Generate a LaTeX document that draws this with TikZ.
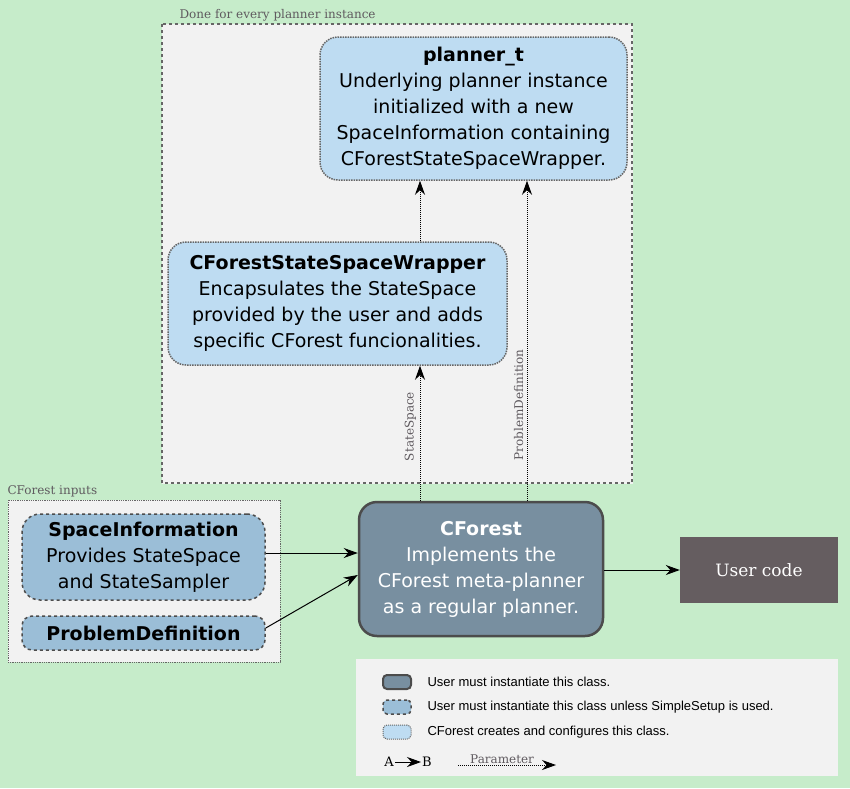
\documentclass[tikz,border=0pt]{standalone}
\usepackage{fontspec}
\setmainfont{DejaVu Sans}
\newfontfamily\legendfont{Liberation Sans}
\newfontfamily\labelfont{DejaVu Serif}
\usetikzlibrary{arrows.meta, calc}
\definecolor{bgc}{RGB}{198,236,202}
\definecolor{panelc}{RGB}{242,242,242}
\definecolor{lightc}{RGB}{190,220,242}
\definecolor{midc}{RGB}{155,190,215}
\definecolor{darkc}{RGB}{120,143,160}
\definecolor{userc}{RGB}{101,93,96}
\definecolor{textc}{RGB}{95,90,95}
\tikzset{
  cls/.style={rounded corners=18pt, align=center, inner sep=0pt, font=\fontsize{19}{26}\selectfont},
  made/.style={cls, draw=gray!80!black, fill=lightc, densely dotted, line width=1.5pt},
  given/.style={cls, draw=gray!60!black, fill=midc, dashed, line width=1.5pt},
  main/.style={cls, draw=black!70, fill=darkc, line width=2.5pt, text=white},
  param/.style={densely dotted, line width=1pt, -{Stealth[length=14pt,width=10pt]}},
  use/.style={line width=1pt, -{Stealth[length=14pt,width=10pt]}},
  lbl/.style={text=textc, font=\labelfont\fontsize{12}{14}\selectfont}
}
\begin{document}
\begin{tikzpicture}[x=1pt, y=-1pt]
\fill[bgc] (0,0) rectangle (850,788);
% planner instance panel
\draw[panelc, fill=panelc] (162,24) rectangle (632,483);
\draw[dashed, line width=1.3pt, black!60] (162,24) rectangle (632,483);
\node[lbl, anchor=south west] (panellbl) at (176,25) {Done for every planner instance};
\node[made, minimum width=307pt, minimum height=143pt] (planner) at (473.5,108.5)
  {\textbf{planner\_t}\\Underlying planner instance\\initialized with a new\\SpaceInformation containing\\CForestStateSpaceWrapper.};
\node[made, minimum width=339pt, minimum height=123pt] (wrapper) at (337.5,303.5)
  {\textbf{CForestStateSpaceWrapper}\\Encapsulates the StateSpace\\provided by the user and adds\\specific CForest funcionalities.};
% inputs panel
\draw[densely dotted, line width=0.8pt, black!60, fill=panelc] (8,500) rectangle (280,662);
\node[lbl, anchor=south west] (inputslbl) at (4,501) {CForest inputs};
\node[given, minimum width=243pt, minimum height=86pt] (spaceinfo) at (143.5,557)
  {\textbf{SpaceInformation}\\Provides StateSpace\\and StateSampler};
\node[given, rounded corners=10pt, minimum width=243pt, minimum height=34pt] (probdef) at (143.5,633)
  {\textbf{ProblemDefinition}};
% main class
\node[main, minimum width=244pt, minimum height=134pt] (cforest) at (481,569)
  {\textbf{CForest}\\Implements the\\CForest meta-planner\\as a regular planner.};
\node[fill=userc, text=white, minimum width=158pt, minimum height=66pt,
  font=\labelfont\fontsize{17}{20}\selectfont] (usercode) at (759,570) {User code};
% connectors
\draw[use] (spaceinfo.east |- 0,553) -- (cforest.west |- 0,553);
\draw[use] (probdef.east |- 0,628) -- (cforest.west |- 0,575);
\draw[use] (cforest.east |- 0,570) -- (usercode.west |- 0,570);
\draw[param] (cforest.north -| 420,0) -- node[lbl, pos=0.55, above, sloped] {StateSpace} (wrapper.south -| 420,0);
\draw[param] (cforest.north -| 527,0) -- node[lbl, pos=0.3, above, sloped] {ProblemDefinition} (planner.south -| 527,0);
\draw[param] (wrapper.north -| 420,0) -- (planner.south -| 420,0);
% legend
\fill[panelc] (356,659) rectangle (838,776);
\node[main, rounded corners=4pt, line width=2pt, minimum width=28pt, minimum height=14pt] (lg1) at (397,682) {};
\node[given, rounded corners=4pt, minimum width=28pt, minimum height=14pt] (lg2) at (397,707) {};
\node[made, rounded corners=4pt, line width=1pt, minimum width=28pt, minimum height=14pt] (lg3) at (397,732) {};
\node[anchor=west, font=\legendfont\fontsize{13}{15}\selectfont] at (424,682) {User must instantiate this class.};
\node[anchor=west, font=\legendfont\fontsize{13}{15}\selectfont] at (424,707) {User must instantiate this class unless SimpleSetup is used.};
\node[anchor=west, font=\legendfont\fontsize{13}{15}\selectfont] at (424,732) {CForest creates and configures this class.};
\node[font=\labelfont\fontsize{13}{15}\selectfont, inner sep=1pt] (la) at (389,762) {A};
\node[font=\labelfont\fontsize{13}{15}\selectfont, inner sep=1pt] (lb) at (427,762) {B};
\draw[use] (la) -- (lb);
\coordinate (ps) at (458,765);
\coordinate (pe) at (556,765);
\draw[param] (ps) -- node[lbl, above, pos=0.45, yshift=-2pt] {Parameter} (pe);
\end{tikzpicture}
\end{document}
